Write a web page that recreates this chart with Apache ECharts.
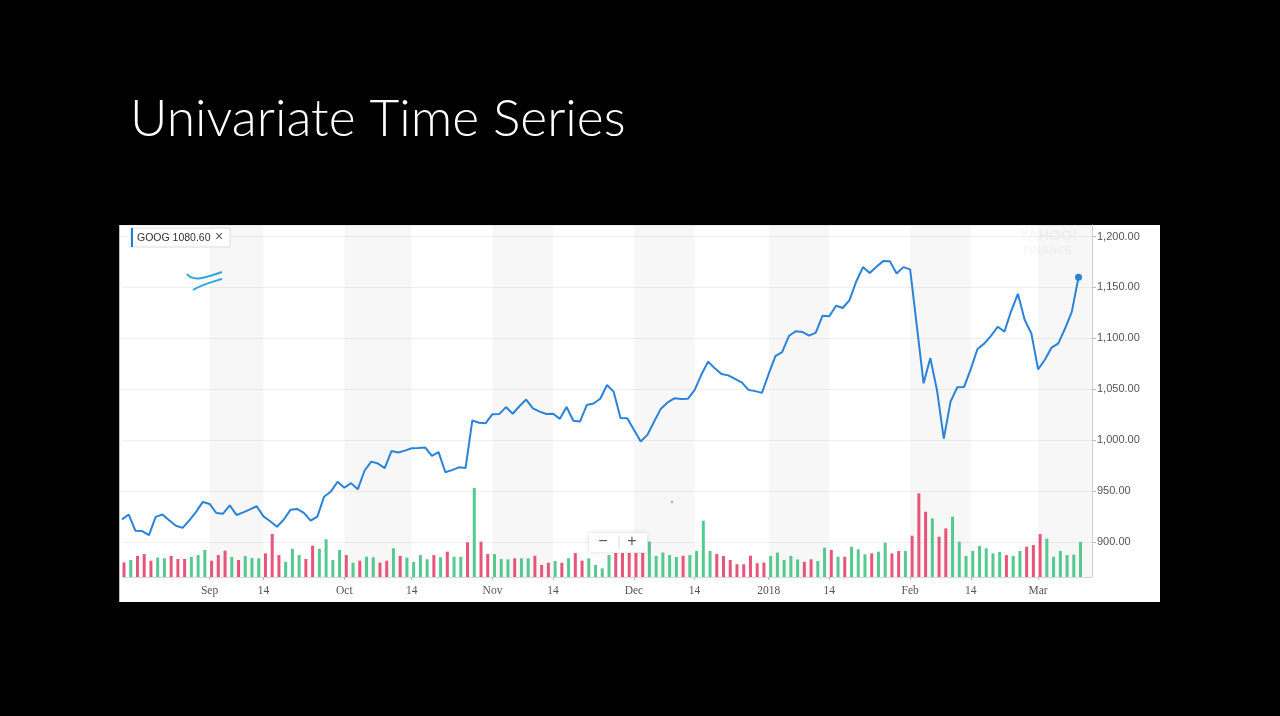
<!DOCTYPE html>
<html><head><meta charset="utf-8">
<script src="https://cdn.jsdelivr.net/npm/echarts@6/dist/echarts.min.js"></script>
<style>html,body{margin:0;padding:0;background:#000;}#c{width:1280px;height:716px;}</style>
</head><body><div id="c"></div>
<script>
// ---- data ----
const tradingDays = [
  ['2017-08', [15,16,17,18,21,22,23,24,25,28,29,30,31]],
  ['2017-09', [1,5,6,7,8,11,12,13,14,15,18,19,20,21,22,25,26,27,28,29]],
  ['2017-10', [2,3,4,5,6,9,10,11,12,13,16,17,18,19,20,23,24,25,26,27,30,31]],
  ['2017-11', [1,2,3,6,7,8,9,10,13,14,15,16,17,20,21,22,24,27,28,29,30]],
  ['2017-12', [1,4,5,6,7,8,11,12,13,14,15,18,19,20,21,22,26,27,28,29]],
  ['2018-01', [2,3,4,5,8,9,10,11,12,16,17,18,19,22,23,24,25,26,29,30,31]],
  ['2018-02', [1,2,5,6,7,8,9,12,13,14,15,16,20,21,22,23,26,27,28]],
  ['2018-03', [1,2,5,6,7,8,9]]
];
const futureDays = ['2018-03-12','2018-03-13'];
const prevClose = 922.67;
const closes = [
  922.22,926.96,910.98,910.67,906.66,924.69,927.00,921.28,915.89,913.81,921.29,929.57,939.33,
  937.34,928.45,927.81,935.95,926.50,929.08,932.07,935.09,925.11,920.29,915.00,921.81,931.58,932.45,928.53,920.97,924.86,944.49,949.50,959.11,
  953.27,957.79,951.68,969.96,978.89,977.00,972.60,989.25,987.83,989.68,992.00,992.18,992.81,984.45,988.20,968.45,970.54,973.33,972.56,1019.27,1017.11,1016.64,
  1025.50,1025.58,1032.48,1025.90,1033.33,1039.85,1031.26,1028.07,1025.75,1026.00,1020.91,1032.50,1019.09,1018.38,1034.49,1035.96,1040.61,1054.21,1047.41,1021.66,1021.41,
  1010.17,998.68,1005.15,1018.38,1030.93,1037.05,1041.10,1040.48,1040.61,1049.15,1064.19,1077.14,1070.68,1064.95,1063.63,1060.12,1056.74,1049.37,1048.14,1046.40,
  1065.00,1082.48,1086.40,1102.23,1106.94,1106.26,1102.61,1105.52,1122.26,1121.76,1131.98,1129.79,1137.51,1155.81,1169.97,1164.24,1170.37,1175.84,1175.58,1163.69,1169.94,
  1167.70,1111.90,1055.80,1080.60,1048.58,1001.52,1037.78,1051.94,1052.10,1069.70,1089.52,1094.80,1102.46,1111.34,1106.63,1126.79,1143.75,1118.29,1104.73,
  1069.52,1078.92,1090.93,1095.06,1109.64,1126.00,1160.04
];
const volumes = [ // millions of shares
  0.86,1.00,1.24,1.35,0.96,1.14,1.10,1.24,1.06,1.06,1.18,1.29,1.59,
  0.96,1.29,1.55,1.18,1.00,1.24,1.12,1.10,1.39,2.53,1.29,0.89,1.66,1.29,1.06,1.84,1.66,2.22,1.00,1.59,
  1.29,0.84,0.96,1.19,1.16,0.84,0.96,1.69,1.24,1.14,0.88,1.29,1.04,1.29,1.16,1.49,1.19,1.19,2.04,5.24,2.08,1.35,
  1.35,1.06,1.04,1.10,1.10,1.10,1.25,0.71,0.84,0.94,0.84,1.10,1.41,0.96,1.10,0.71,0.51,1.29,1.41,1.41,1.41,
  1.41,1.41,2.08,1.24,1.44,1.29,1.18,1.25,1.29,1.53,3.31,1.53,1.35,1.24,1.00,0.75,0.75,1.25,0.81,0.85,
  1.24,1.44,1.00,1.24,1.03,0.89,1.04,0.94,1.72,1.59,1.19,1.19,1.78,1.63,1.34,1.39,1.49,2.02,1.39,1.53,1.53,
  2.43,4.92,3.84,3.45,2.37,2.86,3.55,2.08,1.24,1.53,1.82,1.69,1.39,1.47,1.29,1.24,1.53,1.78,1.88,
  2.53,2.26,1.19,1.53,1.29,1.32,2.07
];
const xTicks = [
  ['2017-09-01','Sep'],['2017-09-14','14'],['2017-10-02','Oct'],['2017-10-16','14'],
  ['2017-11-01','Nov'],['2017-11-14','14'],['2017-12-01','Dec'],['2017-12-14','14'],
  ['2018-01-02','2018'],['2018-01-16','14'],['2018-02-01','Feb'],['2018-02-14','14'],['2018-03-01','Mar']
];
const shadedBands = [
  ['2017-09-01','2017-09-14'],['2017-10-02','2017-10-16'],['2017-11-01','2017-11-14'],
  ['2017-12-01','2017-12-14'],['2018-01-02','2018-01-16'],['2018-02-01','2018-02-14'],['2018-03-01','2018-03-13']
];
const ticker = 'GOOG';
const quoteShown = '1080.60';
const yRange = [865.6, 1211.3];

// ---- build ----
const categories = [];
tradingDays.forEach(([m, days]) => days.forEach(d => categories.push(m + '-' + String(d).padStart(2,'0'))));
futureDays.forEach(d => categories.push(d));
const tickMap = new Map(xTicks);
const lastIdx = closes.length - 1;
const lastClose = closes[lastIdx];
const fmt = v => v.toLocaleString('en-US',{minimumFractionDigits:2, maximumFractionDigits:2});

const LINE = '#2a83d8', RED = '#e8557a', GREEN = '#55c98f';
const chart = echarts.init(document.getElementById('c'), null, {renderer:'canvas'});
chart.setOption({
  backgroundColor: '#000',
  animation: false,
  grid: [
    {left:122, right:188, top:225, bottom:139, outerBoundsMode:'none', containLabel:false},
    {left:124, right:186, top:407, bottom:139, outerBoundsMode:'none', containLabel:false}
  ],
  xAxis: [
    {type:'category', gridIndex:0, data:categories, boundaryGap:false,
     axisLine:{show:true, lineStyle:{color:'#d8d8d8', width:1}},
     axisTick:{show:true, length:3, interval:(i,v)=>tickMap.has(v), lineStyle:{color:'#bbb'}},
     axisLabel:{interval:(i,v)=>tickMap.has(v), formatter:v=>tickMap.get(v)||'', margin:8,
       color:'#555', fontSize:11.5, fontFamily:'Liberation Serif'},
     splitLine:{show:false}},
    {type:'category', gridIndex:1, data:categories, boundaryGap:false, show:false}
  ],
  yAxis: [
    {type:'value', gridIndex:0, position:'right', min:yRange[0], max:yRange[1], splitNumber:6,
     axisLine:{show:true, lineStyle:{color:'#cfcfcf'}},
     axisTick:{show:true, length:4, lineStyle:{color:'#bbb'}},
     axisLabel:{showMinLabel:false, showMaxLabel:false, margin:5, color:'#555', fontSize:11,
       fontFamily:'Liberation Sans', formatter:v=> (Math.abs(v/50 - Math.round(v/50))<1e-6 ? fmt(v) : '')},
     splitLine:{show:true, lineStyle:{color:'#f0f0f0', width:1}}},
    {type:'value', gridIndex:1, min:0, max:10, show:false, splitLine:{show:false}}
  ],
  series: [
    {type:'bar', xAxisIndex:1, yAxisIndex:1, data:volumes, barWidth:3, z:3,
     itemStyle:{color:p=>{const prev = p.dataIndex===0 ? prevClose : closes[p.dataIndex-1];
       return closes[p.dataIndex] >= prev ? GREEN : RED;}}},
    {type:'line', xAxisIndex:0, yAxisIndex:0, data:closes, z:4, symbol:'none', smooth:false,
     lineStyle:{color:LINE, width:2}, itemStyle:{color:LINE},
     markArea:{silent:true, itemStyle:{color:'rgba(0,0,0,0.03)'},
       data: shadedBands.map(([a,b])=>[{xAxis:a},{xAxis:b}])},
     markPoint:{symbol:'circle', symbolSize:7, itemStyle:{color:LINE}, label:{show:false},
       data:[{coord:[categories[lastIdx], lastClose]}]},
     markLine:{silent:true, symbol:['none','none'], lineStyle:{opacity:0},
       label:{show:true, position:'end', distance:2, formatter:()=>fmt(lastClose), color:'#fff',
         backgroundColor:'#1ec35e', padding:[2,3,1,3], fontSize:11, fontFamily:'Liberation Sans'},
       data:[{yAxis:lastClose}]}}
  ],
  graphic: [
    {type:'rect', z:-10, shape:{x:119,y:225,width:1041,height:377}, style:{fill:'#fff'}},
    {type:'line', z:-9, shape:{x1:119.5,y1:225,x2:119.5,y2:602}, style:{stroke:'#bdbdbd', lineWidth:1}},
    {type:'text', x:130, y:119, style:{text:'Univariate Time Series', fill:'#fff',
      font:'300 51.5px Lato', verticalAlign:'middle'}},
    {type:'group', z:50, children:[
      {type:'rect', z:50, shape:{x:131,y:228,width:99,height:19}, style:{fill:'#fff', stroke:'#dcdcdc', lineWidth:1}},
      {type:'rect', z:51, shape:{x:131,y:228,width:2,height:19}, style:{fill:'#1e7fd6'}},
      {type:'text', z:52, x:137, y:238, style:{text:ticker + ' ' + quoteShown, fill:'#333', font:'10.5px Liberation Sans', verticalAlign:'middle'}},
      {type:'text', z:52, x:219, y:237.5, style:{text:'×', fill:'#555', font:'14px Liberation Sans', align:'center', verticalAlign:'middle'}}
    ]},
    {type:'bezierCurve', z:50, shape:{x1:187,y1:274,x2:222,y2:272,cpx1:193,cpy1:282,cpx2:205,cpy2:278}, style:{stroke:'#2aa7df', lineWidth:2, fill:null}},
    {type:'bezierCurve', z:50, shape:{x1:193,y1:290,x2:222,y2:279,cpx1:203,cpy1:284,cpx2:212,cpy2:282}, style:{stroke:'#2aa7df', lineWidth:2, fill:null}},
    {type:'circle', z:50, shape:{cx:672, cy:502, r:1}, style:{fill:'#2aa7df'}},
    {type:'rect', z:50, shape:{x:589,y:533,width:58,height:19}, style:{fill:'#fff', shadowBlur:5, shadowColor:'rgba(0,0,0,0.15)'}},
    {type:'line', z:51, shape:{x1:619,y1:536,x2:619,y2:549}, style:{stroke:'#ddd', lineWidth:1}},
    {type:'text', z:51, x:603, y:542, style:{text:'−', fill:'#555', font:'16px Liberation Sans', align:'center', verticalAlign:'middle'}},
    {type:'text', z:51, x:632, y:542, style:{text:'+', fill:'#555', font:'16px Liberation Sans', align:'center', verticalAlign:'middle'}},
    {type:'text', x:1048, y:236, style:{text:'YAHOO!', fill:'rgba(0,0,0,0.035)', font:'bold 15px Liberation Sans', align:'center', verticalAlign:'middle'}},
    {type:'text', x:1048, y:251, style:{text:'FINANCE', fill:'rgba(0,0,0,0.035)', font:'bold 11px Liberation Sans', align:'center', verticalAlign:'middle'}}
  ]
});
</script></body></html>
